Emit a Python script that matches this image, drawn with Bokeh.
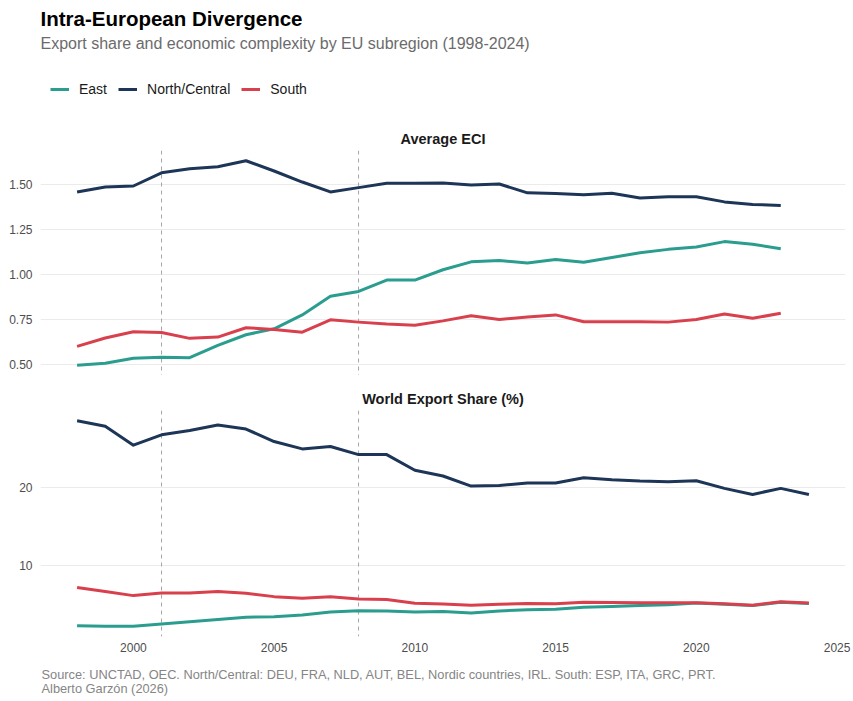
from bokeh.plotting import figure
from bokeh.models import (Range1d, Label, Legend, LegendItem, Span, FixedTicker,
                          PrintfTickFormatter)
from bokeh.layouts import column
from bokeh.embed import file_html
from bokeh.resources import INLINE

# ---------------- data ----------------
regions = ["East", "North/Central", "South"]
colors = ["#2A9D8F", "#1D3557", "#D9404D"]

years_eci = list(range(1998, 2024))
eci_east = [0.496, 0.507, 0.535, 0.540, 0.538, 0.606, 0.665, 0.698, 0.775, 0.878, 0.905, 0.968, 0.968,
            1.025, 1.069, 1.076, 1.062, 1.082, 1.067, 1.093, 1.119, 1.138, 1.151, 1.181, 1.166, 1.142]
eci_north = [1.456, 1.483, 1.489, 1.562, 1.585, 1.596, 1.629, 1.572, 1.511, 1.456, 1.480, 1.504, 1.504,
             1.506, 1.495, 1.500, 1.451, 1.447, 1.440, 1.449, 1.423, 1.429, 1.429, 1.401, 1.387, 1.381]
eci_south = [0.601, 0.647, 0.682, 0.678, 0.645, 0.652, 0.704, 0.694, 0.679, 0.748, 0.735, 0.724, 0.718,
             0.742, 0.770, 0.750, 0.763, 0.775, 0.737, 0.737, 0.737, 0.735, 0.750, 0.780, 0.756, 0.784]

years_exp = list(range(1998, 2025))
exp_east = [2.24, 2.18, 2.18, 2.47, 2.75, 3.05, 3.33, 3.40, 3.61, 4.00, 4.17, 4.13, 4.00,
            4.08, 3.87, 4.13, 4.30, 4.36, 4.62, 4.72, 4.83, 4.94, 5.16, 5.00, 4.82, 5.25, 5.10]
exp_north = [28.49, 27.80, 25.37, 26.69, 27.25, 27.94, 27.43, 25.83, 24.89, 25.19, 24.16, 24.16, 22.15,
             21.42, 20.13, 20.21, 20.51, 20.51, 21.20, 20.94, 20.77, 20.69, 20.81, 19.83, 19.06, 19.83, 19.06]
exp_south = [7.15, 6.62, 6.10, 6.45, 6.45, 6.62, 6.40, 5.97, 5.76, 5.95, 5.67, 5.59, 5.12,
             5.02, 4.86, 4.98, 5.08, 5.05, 5.26, 5.22, 5.20, 5.20, 5.18, 5.05, 4.88, 5.30, 5.14]

event_years = [2001, 2008]
x_ticks = [2000, 2005, 2010, 2015, 2020, 2025]
eci_ticks = [0.50, 0.75, 1.00, 1.25, 1.50]
exp_ticks = [10, 20]

title_text = "Intra-European Divergence"
subtitle_text = "Export share and economic complexity by EU subregion (1998-2024)"
strip_top = "Average ECI"
strip_bottom = "World Export Share (%)"
caption1 = "Source: UNCTAD, OEC. North/Central: DEU, FRA, NLD, AUT, BEL, Nordic countries, IRL. South: ESP, ITA, GRC, PRT."
caption2 = "Alberto Garzón (2026)"

# ---------------- layout constants (canvas rows) ----------------
FONT = "Liberation Sans"
W = 853
FRAME_LEFT = 40     # frames of all stacked figures are aligned at x=40
HEADER_H = 150      # 0..150
TOP_H = 225         # 150..375  (frame)
STRIP_H = 35        # 375..410
BOT_H = 250         # 410..660  (frame 226 + x axis 24)
BOT_BB = 24
CAP_H = 41          # 660..701
PANEL_CX = (845 - 40) / 2


def padded(lo, hi, frac=0.05):
    d = (hi - lo) * frac
    return lo - d, hi + d


xr = Range1d(*padded(min(years_exp), max(years_exp)))
all_eci = eci_east + eci_north + eci_south
all_exp = exp_east + exp_north + exp_south
y_top = Range1d(*padded(min(all_eci), max(all_eci)))
y_bot = Range1d(*padded(min(all_exp), max(all_exp)))


def text_fig(height):
    p = figure(width=W, height=height, x_range=Range1d(0, 1), y_range=Range1d(0, 1),
               output_backend="svg", toolbar_location=None, title=None,
               x_axis_location=None, y_axis_location=None, min_border=0)
    p.outline_line_color = None
    p.grid.visible = False
    p.background_fill_color = "white"
    p.border_fill_color = "white"
    return p


def add_text(p, height, x, center_y, text, size, color, bold=False, align="left"):
    p.add_layout(Label(x=x, y=height - center_y, x_units="screen", y_units="screen",
                       text=text, text_font=FONT, text_font_size=size, text_color=color,
                       text_font_style="bold" if bold else "normal", text_align=align,
                       text_baseline="middle"))


def panel_fig(height, bb, yr, show_x):
    kw = {}
    if not show_x:
        kw["x_axis_location"] = None
    p = figure(width=W, height=height, x_range=xr, y_range=yr, output_backend="svg",
               toolbar_location=None, title=None, min_border_left=40, min_border_right=8,
               min_border_top=0, min_border_bottom=bb, **kw)
    p.outline_line_color = None
    p.background_fill_color = "white"
    p.border_fill_color = "white"
    p.xgrid.visible = False
    p.ygrid.grid_line_color = "#ebebeb"
    p.ygrid.grid_line_width = 1
    for ax in p.yaxis:
        ax.axis_line_color = None
        ax.major_tick_line_color = None
        ax.minor_tick_line_color = None
        ax.major_tick_in = 0
        ax.major_tick_out = 0
        ax.major_label_standoff = 8
        ax.major_label_text_font = FONT
        ax.major_label_text_font_size = "12px"
        ax.major_label_text_color = "#4d4d4d"
    for yv in event_years:
        p.add_layout(Span(location=yv, dimension="height", line_color="#a6a6a6",
                          line_width=1, line_dash="4 4", level="underlay"))
    return p


# ---------------- header: title, subtitle, legend, first strip ----------------
hd = text_fig(HEADER_H)
add_text(hd, HEADER_H, 40 - FRAME_LEFT, 17.5, title_text, "20.5px", "#000000", bold=True)
add_text(hd, HEADER_H, 40 - FRAME_LEFT, 42.5, subtitle_text, "16px", "#6b6b6b")
add_text(hd, HEADER_H, PANEL_CX, 138, strip_top, "14.5px", "#1a1a1a", bold=True, align="center")

# legend keys: series drawn outside the header's view, used only for the legend glyphs
key_rends = [hd.line(years_eci, vals, line_color=c, line_width=3)
             for vals, c in zip([eci_east, eci_north, eci_south], colors)]
legend = Legend(items=[LegendItem(label=n, renderers=[r]) for n, r in zip(regions, key_rends)],
                orientation="horizontal", location=(50 - FRAME_LEFT, HEADER_H - 99),
                glyph_width=19, glyph_height=20, label_height=20, label_standoff=10, spacing=11,
                padding=0, margin=0, label_text_font=FONT, label_text_font_size="14px",
                label_text_color="#1a1a1a", background_fill_alpha=0, border_line_alpha=0)
hd.add_layout(legend)

# ---------------- top panel (ECI) ----------------
pt = panel_fig(TOP_H, 0, y_top, False)
pt.yaxis.ticker = FixedTicker(ticks=eci_ticks)
pt.yaxis.formatter = PrintfTickFormatter(format="%.2f")
pt.ygrid.ticker = FixedTicker(ticks=eci_ticks)
for vals, c in zip([eci_east, eci_north, eci_south], colors):
    pt.line(years_eci, vals, line_color=c, line_width=3, line_join="round")

# ---------------- strip for second panel ----------------
st = text_fig(STRIP_H)
add_text(st, STRIP_H, PANEL_CX, 398 - 375, strip_bottom, "14.5px", "#1a1a1a", bold=True, align="center")

# ---------------- bottom panel (export share) ----------------
pb = panel_fig(BOT_H, BOT_BB, y_bot, True)
pb.yaxis.ticker = FixedTicker(ticks=exp_ticks)
pb.yaxis.formatter = PrintfTickFormatter(format="%d")
pb.ygrid.ticker = FixedTicker(ticks=exp_ticks)
pb.xaxis.ticker = FixedTicker(ticks=x_ticks)
ax = pb.xaxis[0]
ax.axis_line_color = None
ax.major_tick_line_color = None
ax.minor_tick_line_color = None
ax.major_tick_in = 0
ax.major_tick_out = 0
ax.major_label_standoff = 6
ax.major_label_text_font = FONT
ax.major_label_text_font_size = "12px"
ax.major_label_text_color = "#4d4d4d"
for vals, c in zip([exp_east, exp_north, exp_south], colors):
    pb.line(years_exp, vals, line_color=c, line_width=3, line_join="round")

# ---------------- caption ----------------
cp = text_fig(CAP_H)
add_text(cp, CAP_H, 41 - FRAME_LEFT, 674 - 660, caption1, "12.8px", "#858585")
add_text(cp, CAP_H, 41 - FRAME_LEFT, 688 - 660, caption2, "12.8px", "#858585")

layout = column(hd, pt, st, pb, cp, spacing=0)
open("out.html", "w").write(file_html(layout, INLINE))
